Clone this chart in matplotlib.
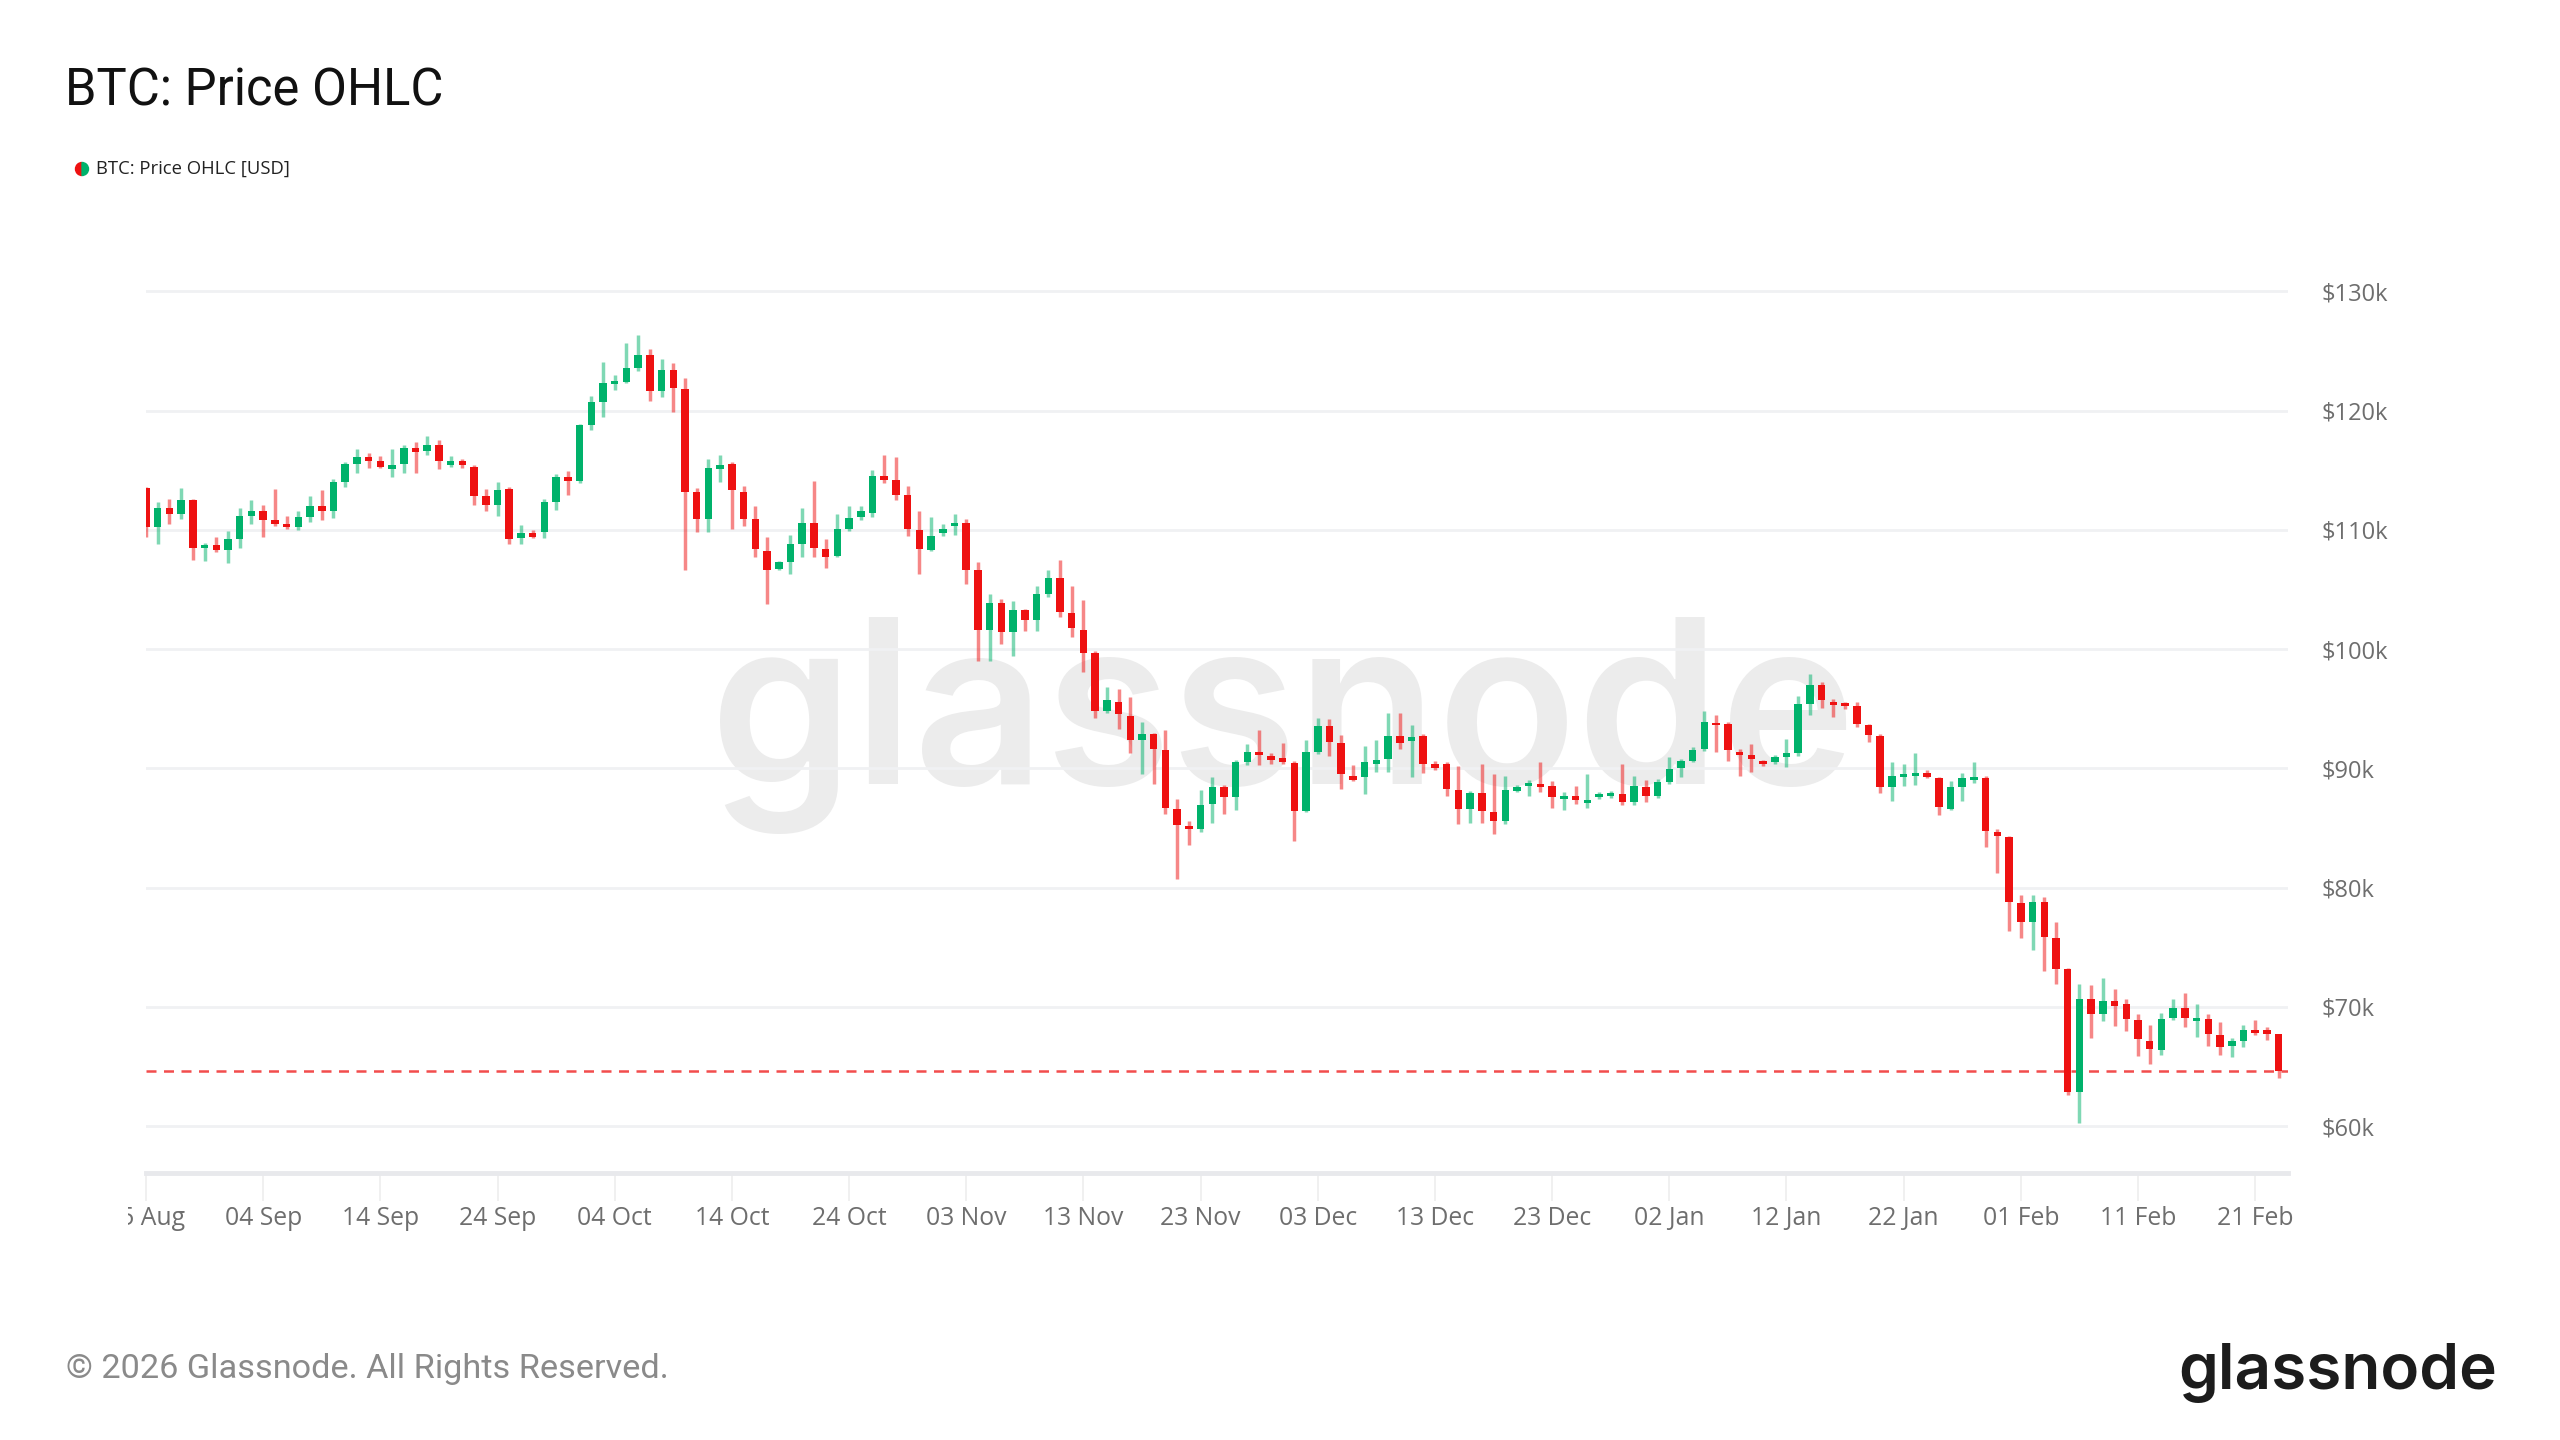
import matplotlib
matplotlib.use("Agg")
import matplotlib.pyplot as plt
import numpy as np
import pandas as pd
from matplotlib.patches import Wedge
from matplotlib.transforms import Bbox, TransformedBbox

# ---------------- data (USD thousands) ----------------
start_date = "2025-08-25"
opens = [113.5, 110.2, 111.8, 111.35, 112.5, 108.45, 108.75,
         108.3, 109.2, 111.2, 111.6, 110.85, 110.5, 110.2, 111.1, 112.0, 111.6,
         114.0, 115.55, 116.1, 115.8, 115.1, 115.5, 116.85, 116.6, 117.15, 115.45,
         115.75, 115.25, 112.8, 112.1, 113.45, 109.3, 109.7, 109.8, 112.35, 114.45,
         114.1, 118.8, 120.7, 122.2, 122.4, 123.6, 124.7, 121.6, 123.4, 121.85,
         113.15, 110.95, 115.1, 115.5, 113.2, 110.9, 108.2, 106.7, 107.3, 108.8,
         110.6, 108.4, 107.8, 110.1, 111.05, 111.4, 114.5, 114.2, 112.9, 110.0, 108.3,
         109.7, 110.3, 110.55, 106.6, 101.6, 103.9, 101.4, 103.25, 102.4, 104.6,
         106.0, 103.0, 101.6, 99.7, 94.8, 95.6, 94.4, 92.35, 92.9, 91.5,
         86.6, 85.2, 84.9, 87.0, 88.4, 87.6, 90.55, 91.4, 91.0, 90.9,
         90.45, 86.4, 91.4, 93.55, 92.1, 89.4, 89.3, 90.4, 90.8, 92.7,
         92.3, 92.7, 90.35, 90.4, 88.2, 86.6, 87.9, 86.3, 85.6, 88.1,
         88.5, 88.7, 88.55, 87.45, 87.65, 87.1, 87.6, 87.7, 87.85, 87.15, 88.4,
         87.7, 88.85, 90.05, 90.65, 91.65, 93.8, 93.75, 91.3, 91.1, 90.55,
         90.55, 90.95, 91.25, 95.4, 97.0, 95.6, 95.45, 95.2, 93.6, 92.7,
         88.4, 89.3, 89.35, 89.6, 89.2, 86.6, 88.45, 89.0, 89.2, 84.7, 84.25,
         78.7, 77.1, 78.8, 75.8, 73.2, 62.9, 70.65, 69.4, 70.5, 70.2,
         68.9, 67.15, 66.4, 69.05, 69.9, 68.85, 69.0, 67.6, 66.7, 67.1,
         68.1, 68.05, 67.7]
highs = [113.6, 112.3, 112.6, 113.5, 112.6, 108.9, 109.4,
         109.9, 111.8, 112.5, 112.1, 113.4, 111.2, 111.6, 112.8, 113.3, 114.3,
         115.7, 116.8, 116.45, 116.15, 116.8, 117.15, 117.4, 117.9, 117.5, 116.15,
         115.9, 115.4, 113.4, 114.0, 113.6, 110.4, 110.0, 112.6, 114.7, 114.9,
         118.9, 121.25, 124.05, 123.0, 125.7, 126.3, 125.2, 124.3, 124.0, 122.7,
         113.5, 115.9, 116.25, 115.7, 113.7, 112.0, 109.4, 107.4, 109.55, 111.8,
         114.1, 109.2, 111.3, 112.0, 112.0, 115.0, 116.3, 116.1, 113.7, 111.6, 111.1,
         110.5, 111.3, 110.9, 107.3, 104.6, 104.2, 104.0, 103.4, 105.3, 106.6,
         107.5, 105.3, 104.1, 99.8, 96.85, 96.65, 96.0, 93.85, 93.0, 93.2,
         87.4, 85.6, 88.15, 89.3, 88.6, 90.7, 92.0, 93.2, 91.3, 92.1,
         90.6, 92.4, 94.2, 94.1, 92.8, 90.3, 91.85, 92.35, 94.65, 94.6,
         93.6, 92.9, 90.6, 90.5, 90.2, 88.1, 90.35, 89.5, 89.4, 88.6,
         89.0, 90.55, 88.9, 88.0, 88.55, 89.55, 88.0, 88.1, 90.35, 89.4, 89.0,
         89.1, 90.95, 90.8, 91.75, 94.85, 94.45, 93.9, 91.6, 92.0, 90.7,
         91.1, 92.5, 96.05, 97.9, 97.2, 95.8, 95.6, 95.6, 93.7, 92.9,
         90.5, 90.4, 91.25, 89.9, 89.3, 88.9, 89.6, 90.55, 89.4, 84.9, 84.3,
         79.4, 79.4, 79.2, 77.1, 73.3, 71.9, 71.8, 72.4, 71.5, 70.65,
         69.4, 68.5, 69.5, 70.65, 71.2, 70.2, 69.4, 68.7, 67.4, 68.5,
         68.9, 68.3, 67.7]
lows = [109.4, 108.8, 110.45, 110.9, 107.5, 107.4, 108.1,
        107.25, 108.5, 110.5, 109.4, 110.3, 110.1, 110.0, 110.65, 110.85, 111.0,
        113.6, 114.8, 115.2, 115.2, 114.45, 114.8, 114.8, 116.25, 115.1, 115.3,
        115.2, 112.05, 111.6, 111.2, 108.8, 108.8, 109.3, 109.35, 111.7, 112.9,
        113.9, 118.4, 119.5, 121.7, 122.3, 123.3, 120.8, 121.15, 119.9, 106.6,
        109.8, 109.8, 114.0, 110.1, 110.3, 107.7, 103.75, 106.6, 106.3, 107.7,
        107.7, 106.8, 107.7, 109.9, 110.8, 111.1, 113.9, 112.5, 109.5, 106.3, 108.2,
        109.5, 109.6, 105.45, 99.0, 99.0, 100.4, 99.4, 101.5, 101.5, 104.35,
        102.7, 101.0, 98.05, 94.2, 94.6, 93.3, 91.3, 89.5, 88.7, 86.15,
        80.75, 83.6, 84.7, 85.4, 86.2, 86.5, 90.25, 90.3, 90.4, 90.4,
        83.9, 86.3, 91.2, 91.0, 88.3, 88.9, 87.85, 89.7, 89.7, 91.65,
        89.3, 89.6, 89.9, 87.7, 85.3, 85.4, 85.4, 84.5, 85.3, 88.0,
        87.7, 88.0, 86.65, 86.5, 87.0, 86.7, 87.4, 87.5, 86.9, 86.9, 87.15,
        87.5, 88.7, 89.3, 90.5, 91.45, 91.4, 90.65, 89.4, 89.7, 90.2,
        90.35, 90.1, 91.0, 94.45, 95.1, 94.3, 95.0, 93.5, 92.2, 87.9,
        87.3, 88.5, 88.6, 89.2, 86.1, 86.5, 87.3, 88.8, 83.4, 81.25, 76.4,
        75.8, 74.8, 73.0, 71.9, 62.6, 60.3, 67.4, 68.8, 68.4, 68.0,
        65.9, 65.2, 66.0, 68.9, 68.3, 67.5, 66.7, 66.0, 65.8, 66.6,
        67.6, 67.25, 64.0]
closes = [110.2, 111.8, 111.35, 112.5, 108.45, 108.75, 108.3,
          109.2, 111.2, 111.6, 110.85, 110.5, 110.2, 111.1, 112.0, 111.6, 114.0,
          115.55, 116.1, 115.8, 115.3, 115.45, 116.9, 116.55, 117.15, 115.75, 115.75,
          115.4, 112.8, 112.1, 113.35, 109.2, 109.7, 109.4, 112.35, 114.45, 114.1,
          118.8, 120.7, 122.3, 122.5, 123.6, 124.7, 121.6, 123.4, 121.9, 113.2,
          110.95, 115.2, 115.4, 113.3, 110.95, 108.4, 106.6, 107.3, 108.8, 110.6,
          108.5, 107.7, 110.1, 111.0, 111.6, 114.5, 114.2, 112.95, 110.1, 108.4, 109.5,
          110.1, 110.55, 106.6, 101.6, 103.9, 101.4, 103.25, 102.4, 104.6, 106.0,
          103.1, 101.8, 99.7, 94.8, 95.7, 94.55, 92.35, 92.9, 91.6, 86.7,
          85.25, 84.9, 86.95, 88.4, 87.6, 90.55, 91.4, 91.1, 90.7, 90.55,
          86.45, 91.4, 93.55, 92.2, 89.5, 89.05, 90.55, 90.7, 92.7, 92.1,
          92.6, 90.4, 90.05, 88.3, 86.6, 87.9, 86.4, 85.6, 88.2, 88.4,
          88.75, 88.4, 87.6, 87.65, 87.35, 87.35, 87.8, 87.9, 87.15, 88.5, 87.7,
          88.85, 89.95, 90.65, 91.5, 93.9, 93.6, 91.5, 91.1, 90.75, 90.35,
          90.95, 91.25, 95.4, 97.0, 95.7, 95.3, 95.2, 93.7, 92.8, 88.4,
          89.4, 89.55, 89.6, 89.3, 86.8, 88.4, 89.2, 89.3, 84.75, 84.3, 78.8,
          77.1, 78.8, 75.9, 73.2, 62.9, 70.65, 69.4, 70.5, 70.1, 69.0,
          67.3, 66.45, 69.0, 69.9, 69.05, 69.0, 67.7, 66.65, 67.1, 68.1,
          67.8, 67.7, 64.6]
y_ticks = [60, 70, 80, 90, 100, 110, 120, 130]
y_tick_labels = ["$60k", "$70k", "$80k", "$90k", "$100k", "$110k", "$120k", "$130k"]
title = "BTC: Price OHLC"
legend_label = "BTC: Price OHLC [USD]"

# ---------------- style ----------------
GREEN = "#00b26b"
RED = "#ee1111"
W, H, DPI = 2560, 1440, 100

o = np.array(opens); h = np.array(highs); l = np.array(lows); c = np.array(closes)
n = len(o)
x = np.arange(n)
dates = pd.date_range(start_date, periods=n, freq="D")
up = c >= o
cols = np.where(up, GREEN, RED)

fig = plt.figure(figsize=(W / DPI, H / DPI), dpi=DPI)
fig.patch.set_facecolor("white")

def fx(px):
    return px / W

def fy(py):
    return 1 - py / H

ax_left, ax_right, ax_top, ax_bot = 146, 2288, 277, 1173
ax = fig.add_axes([fx(ax_left), fy(ax_bot), fx(ax_right - ax_left), (ax_bot - ax_top) / H])
ax.set_facecolor("white")

# watermark
ax.text(1283 / W, fy(784), "glassnode", transform=fig.transFigure, ha="center",
        va="baseline", fontsize=165, family="Inter", weight="semibold",
        color="#ececec", zorder=0.5)

# grid
for v in y_ticks:
    ax.axhline(v, color="#f0f1f3", lw=2.0, zorder=1)

# candles
ax.vlines(x, l, h, colors=cols, lw=2.5, alpha=0.5, zorder=3)
body_low = np.minimum(o, c)
body_h = np.maximum(np.abs(c - o), 0.24)
ax.bar(x, body_h, bottom=body_low, width=0.64, color=cols, edgecolor="none", zorder=4)

# last close dashed line
ax.axhline(c[-1], color=RED, lw=1.8, ls=(0, (4, 3)), alpha=0.75, zorder=2)

ax.set_xlim(0, n - 1 + 0.8)
ax.set_ylim(56.07, 131.2)

for s in ["top", "left", "right"]:
    ax.spines[s].set_visible(False)
ax.spines["bottom"].set_color("#e8e9ec")
ax.spines["bottom"].set_linewidth(3.5)

ax.yaxis.tick_right()
ax.set_yticks(y_ticks)
ax.set_yticklabels(y_tick_labels)
ax.tick_params(axis="y", length=0, pad=24, labelsize=17, labelcolor="#6e6e6e")
for t in ax.get_yticklabels():
    t.set_family("Open Sans")

tick_idx = list(range(0, n, 10))
ax.set_xticks(tick_idx)
ax.set_xticklabels([dates[i].strftime("%d %b") for i in tick_idx])
ax.tick_params(axis="x", length=20, width=1.2, color="#eeeeee", pad=3.5,
               labelsize=17.8, labelcolor="#6e6e6e")
clip = TransformedBbox(Bbox([[128 / W, 0], [1, 1]]), fig.transFigure)
for t in ax.get_xticklabels():
    t.set_family("Open Sans")
    t.set_clip_box(clip)
    t.set_clip_on(True)

# title
fig.text(fx(65), fy(105), title, ha="left", va="baseline", fontsize=36.5,
         family="Roboto", color="#111111")

# legend
cx, cy, r = 82 / DPI, (H - 169) / DPI, 6.5 / DPI
fig.patches.append(Wedge((cx, cy), r, 90, 270, color=RED, transform=fig.dpi_scale_trans))
fig.patches.append(Wedge((cx, cy), r, -90, 90, color=GREEN, transform=fig.dpi_scale_trans))
fig.text(fx(96), fy(169), legend_label, ha="left", va="center", fontsize=13.3,
         family="Open Sans", color="#222222")

# footer
fig.text(fx(66), fy(1369), "\u00a9 2026 Glassnode. All Rights Reserved.", ha="left",
         va="center", fontsize=24.7, family="Roboto", color="#8a8a8a")
fig.text(fx(2497), fy(1389), "glassnode", ha="right", va="baseline", fontsize=46,
         family="Inter", weight="semibold", color="#1c1c1c")

fig.savefig("out.png", dpi=DPI, facecolor="white")
